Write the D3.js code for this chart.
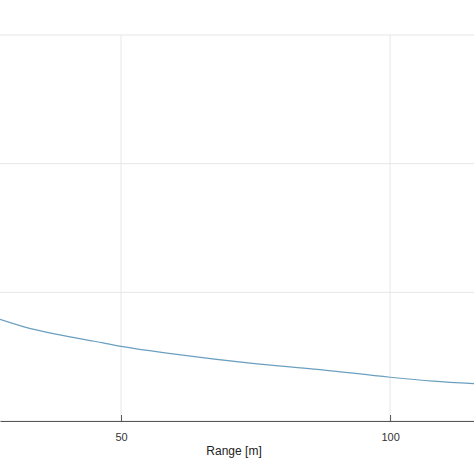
<!DOCTYPE html>
<html>
<head>
<meta charset="utf-8">
<script src="https://d3js.org/d3.v7.min.js"></script>
<style>
  body { margin: 0; background: #fff; }
  text { font-family: "Liberation Sans", Arial, sans-serif; }
</style>
</head>
<body>
<svg width="474" height="474"></svg>
<script>
// values (range in metres, value in grid units)
const ranges = [27.5, 33, 38.6, 45, 50, 60, 74, 87, 100, 108, 115.6];
const values = [0.79, 0.72, 0.67, 0.62, 0.58, 0.52, 0.45, 0.40, 0.34, 0.31, 0.29];
const xTicks = [50, 100];
const yGrid = [0, 1, 2, 3];

const svg = d3.select("svg");
const plotLeft = 0, plotRight = 474, plotTop = 35, plotBottom = 421;

const x = d3.scaleLinear().domain([27.5, 115.6]).range([plotLeft, plotRight]);
const y = d3.scaleLinear().domain([0, 3]).range([plotBottom, plotTop]);

// grid lines
svg.selectAll(".hg").data(yGrid).join("line")
  .attr("x1", plotLeft).attr("x2", plotRight)
  .attr("y1", d => y(d)).attr("y2", d => y(d))
  .attr("stroke", "#e6e6e6").attr("stroke-width", 1);
svg.selectAll(".vg").data(xTicks).join("line")
  .attr("x1", d => x(d)).attr("x2", d => x(d))
  .attr("y1", plotTop).attr("y2", plotBottom)
  .attr("stroke", "#e6e6e6").attr("stroke-width", 1);

// curve
const pts = ranges.map((r, i) => [r, values[i]]);
svg.append("path")
  .datum(pts)
  .attr("fill", "none")
  .attr("stroke", "#6a9fc0")
  .attr("stroke-width", 1.2)
  .attr("d", d3.line().x(d => x(d[0])).y(d => y(d[1])).curve(d3.curveMonotoneX));

// x axis
const ax = svg.append("g")
  .attr("transform", `translate(0,${plotBottom})`)
  .call(d3.axisBottom(x).tickValues(xTicks).tickSize(-6).tickPadding(12).tickSizeOuter(0));
ax.select(".domain").attr("stroke", "#555");
ax.selectAll(".tick line").attr("stroke", "#555");
ax.selectAll("text").attr("fill", "#333").attr("font-size", 11);

svg.append("text")
  .attr("x", x(71)).attr("y", 455)
  .attr("text-anchor", "middle")
  .attr("font-size", 12).attr("fill", "#222")
  .text("Range [m]");
</script>
</body>
</html>
